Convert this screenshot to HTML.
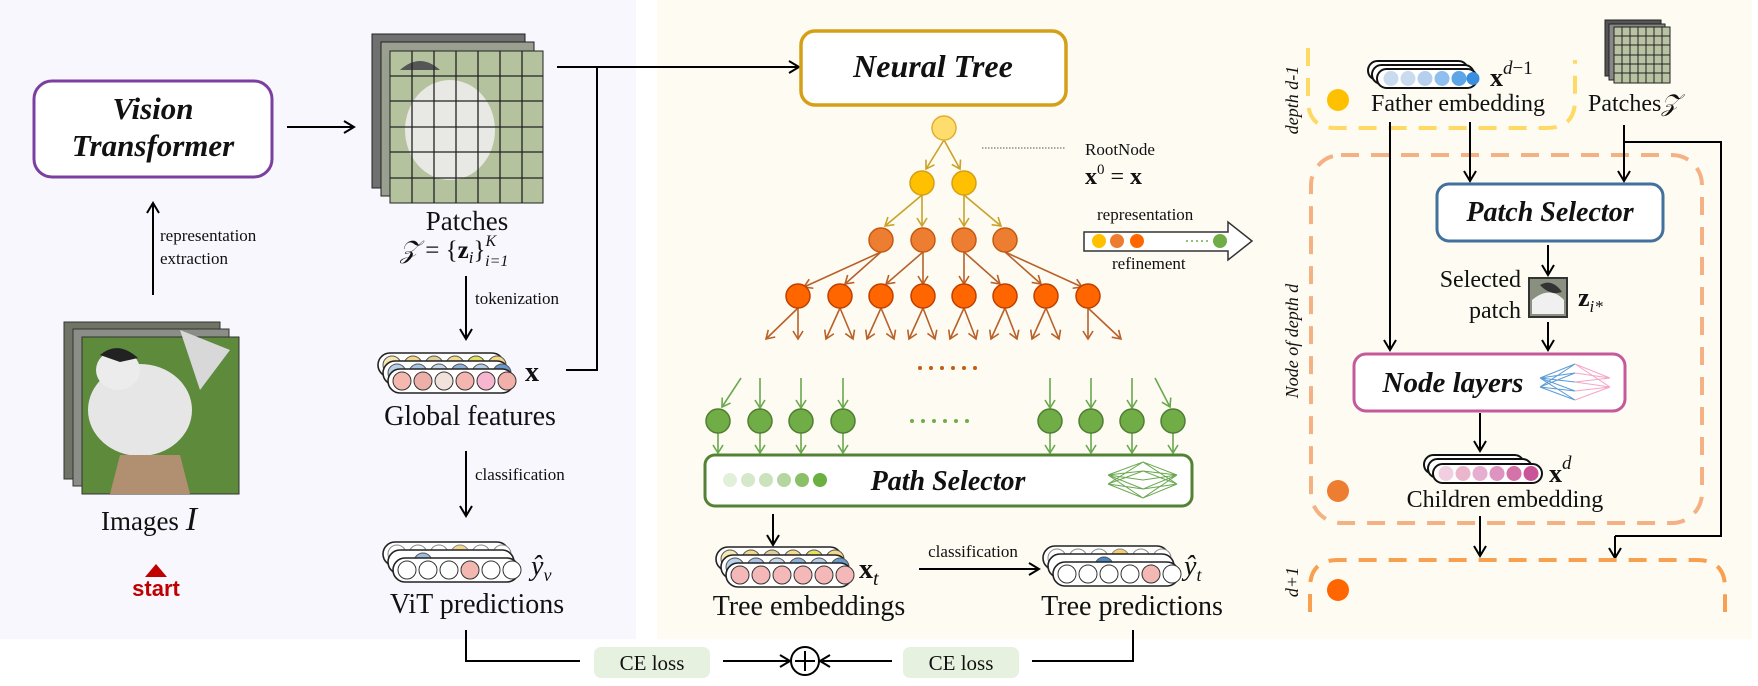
<!DOCTYPE html>
<html><head><meta charset="utf-8"><style>
html,body{margin:0;padding:0;background:#fff}
svg{display:block}
text{font-family:"Liberation Serif",serif;fill:#111}
.bi{font-weight:bold;font-style:italic}
</style></head><body>
<svg width="1758" height="686" viewBox="0 0 1758 686" xmlns="http://www.w3.org/2000/svg">
<defs>
<marker id="ak" markerUnits="userSpaceOnUse" markerWidth="14" markerHeight="14" refX="11" refY="7" orient="auto"><path d="M1,1 L11,7 L1,13" fill="none" stroke="#000" stroke-width="2"/></marker>
<marker id="ag" markerUnits="userSpaceOnUse" markerWidth="12" markerHeight="12" refX="9" refY="6" orient="auto"><path d="M1,1 L9,6 L1,11" fill="none" stroke="#c9a227" stroke-width="1.6"/></marker>
<marker id="ao" markerUnits="userSpaceOnUse" markerWidth="12" markerHeight="12" refX="9" refY="6" orient="auto"><path d="M1,1 L9,6 L1,11" fill="none" stroke="#b8612a" stroke-width="1.6"/></marker>
<marker id="agr" markerUnits="userSpaceOnUse" markerWidth="12" markerHeight="12" refX="9" refY="6" orient="auto"><path d="M1,1 L9,6 L1,11" fill="none" stroke="#6aa84f" stroke-width="1.6"/></marker>
<g id="cap"><rect x="0" y="0" width="126" height="24" rx="12" fill="#fff" stroke="#222" stroke-width="1.6"/></g>
</defs>

<!-- panels -->
<rect x="0" y="0" width="636" height="639" fill="#f8f7fd"/>
<rect x="657" y="0" width="1095" height="639" fill="#fdfbf2"/>

<!-- Vision Transformer -->
<rect x="34" y="81" width="238" height="96" rx="18" fill="#fff" stroke="#7b3fa0" stroke-width="3"/>
<text x="153" y="119" class="bi" font-size="31" text-anchor="middle">Vision</text>
<text x="153" y="156" class="bi" font-size="31" text-anchor="middle">Transformer</text>
<line x1="287" y1="127" x2="354" y2="127" stroke="#000" stroke-width="2" marker-end="url(#ak)"/>

<!-- images -->
<rect x="64" y="322" width="156" height="157" fill="#6f7467" stroke="#333"/>
<rect x="73" y="329" width="156" height="157" fill="#8a8e86" stroke="#333"/>
<rect x="82" y="337" width="157" height="157" fill="#5e8a3c" stroke="#333"/>
<ellipse cx="140" cy="410" rx="52" ry="46" fill="#e6e6e6"/>
<ellipse cx="118" cy="370" rx="22" ry="20" fill="#ececec"/>
<path d="M100,355 Q118,340 138,358 L120,362 Z" fill="#222"/>
<path d="M180,330 L230,350 L200,390 Z" fill="#d8d8d8"/>
<path d="M120,455 L180,455 L190,494 L110,494 Z" fill="#b09070"/>
<text x="149" y="530" font-size="27" text-anchor="middle">Images <tspan font-style="italic" font-size="34">I</tspan></text>
<path d="M145,577 L156,564 L167,577 Z" fill="#c00000"/>
<text x="156" y="596" font-size="22" font-weight="bold" text-anchor="middle" style="fill:#c00000;font-family:'Liberation Sans',sans-serif">start</text>
<line x1="153" y1="295" x2="153" y2="203" stroke="#000" stroke-width="2" marker-end="url(#ak)"/>
<text x="160" y="241" font-size="17">representation</text>
<text x="160" y="264" font-size="17">extraction</text>

<!-- patches -->
<rect x="372" y="34" width="153" height="154" fill="#707070" stroke="#222"/>
<rect x="381" y="42" width="153" height="154" fill="#9aa090" stroke="#222"/>
<rect x="390" y="51" width="153" height="152" fill="#b5c29e" stroke="#222"/>
<ellipse cx="450" cy="130" rx="45" ry="50" fill="#e8e8e4"/>
<path d="M400,70 Q420,52 440,70 Z" fill="#555"/>
<g stroke="#222" stroke-width="1.3">
<line x1="412" y1="51" x2="412" y2="203"/><line x1="434" y1="51" x2="434" y2="203"/><line x1="456" y1="51" x2="456" y2="203"/><line x1="478" y1="51" x2="478" y2="203"/><line x1="500" y1="51" x2="500" y2="203"/><line x1="522" y1="51" x2="522" y2="203"/>
<line x1="390" y1="76" x2="543" y2="76"/><line x1="390" y1="101" x2="543" y2="101"/><line x1="390" y1="127" x2="543" y2="127"/><line x1="390" y1="152" x2="543" y2="152"/><line x1="390" y1="178" x2="543" y2="178"/>
</g>
<text x="467" y="230" font-size="27" text-anchor="middle">Patches</text>
<text x="400" y="258" font-size="25" font-style="italic">𝒵 <tspan font-style="normal">= {</tspan><tspan font-weight="bold" font-style="normal">z</tspan><tspan font-size="17" dy="5">i</tspan><tspan dy="-5" font-style="normal">}</tspan><tspan font-size="16" dy="-12">K</tspan><tspan font-size="16" dx="-11" dy="20">i=1</tspan></text>
<line x1="466" y1="276" x2="466" y2="339" stroke="#000" stroke-width="2" marker-end="url(#ak)"/>
<text x="475" y="304" font-size="17">tokenization</text>

<!-- global features -->
<g transform="translate(378,353)">
<use href="#cap"/><circle cx="14" cy="12" r="9" fill="#f7e7b0" stroke="#555"/><circle cx="35" cy="12" r="9" fill="#f3d88a" stroke="#555"/><circle cx="56" cy="12" r="9" fill="#e0cf9a" stroke="#555"/><circle cx="77" cy="12" r="9" fill="#f3dc90" stroke="#555"/><circle cx="98" cy="12" r="9" fill="#e6e060" stroke="#555"/><circle cx="119" cy="12" r="9" fill="#f3d88a" stroke="#555"/>
<g transform="translate(5,8)"><use href="#cap"/><circle cx="14" cy="12" r="9" fill="#b8d0ea" stroke="#555"/><circle cx="35" cy="12" r="9" fill="#a8c4e4" stroke="#555"/><circle cx="56" cy="12" r="9" fill="#c4d6ea" stroke="#555"/><circle cx="77" cy="12" r="9" fill="#8cb0d8" stroke="#555"/><circle cx="98" cy="12" r="9" fill="#b4cce6" stroke="#555"/><circle cx="119" cy="12" r="9" fill="#6a9acb" stroke="#555"/></g>
<g transform="translate(10,16)"><use href="#cap"/><circle cx="14" cy="12" r="9" fill="#f4b8b0" stroke="#333"/><circle cx="35" cy="12" r="9" fill="#ecb0a8" stroke="#333"/><circle cx="56" cy="12" r="9" fill="#f2e2dc" stroke="#333"/><circle cx="77" cy="12" r="9" fill="#f4b4b0" stroke="#333"/><circle cx="98" cy="12" r="9" fill="#f7b6cf" stroke="#333"/><circle cx="119" cy="12" r="9" fill="#f2b0aa" stroke="#333"/></g>
</g>
<text x="525" y="381" font-size="28" font-weight="bold">x</text>
<text x="470" y="425" font-size="28" text-anchor="middle">Global features</text>
<polyline points="566,370 597,370 597,67 557,67" fill="none" stroke="#000" stroke-width="2"/>
<line x1="557" y1="67" x2="799" y2="67" stroke="#000" stroke-width="2" marker-end="url(#ak)"/>
<line x1="466" y1="451" x2="466" y2="516" stroke="#000" stroke-width="2" marker-end="url(#ak)"/>
<text x="475" y="480" font-size="17">classification</text>

<!-- ViT predictions -->
<g transform="translate(383,542)">
<use href="#cap"/><circle cx="14" cy="12" r="9" fill="#fff" stroke="#888"/><circle cx="35" cy="12" r="9" fill="#fff" stroke="#888"/><circle cx="56" cy="12" r="9" fill="#fff" stroke="#888"/><circle cx="77" cy="12" r="9" fill="#f4d88a" stroke="#888"/><circle cx="98" cy="12" r="9" fill="#fff" stroke="#888"/><circle cx="119" cy="12" r="9" fill="#fff" stroke="#888"/>
<g transform="translate(5,8)"><use href="#cap"/><circle cx="35" cy="12" r="9" fill="#9cbce0" stroke="#555"/></g>
<g transform="translate(10,16)"><use href="#cap"/><circle cx="14" cy="12" r="9" fill="#fff" stroke="#333"/><circle cx="35" cy="12" r="9" fill="#fff" stroke="#333"/><circle cx="56" cy="12" r="9" fill="#fff" stroke="#333"/><circle cx="77" cy="12" r="9" fill="#f2b8b0" stroke="#333"/><circle cx="98" cy="12" r="9" fill="#fff" stroke="#333"/><circle cx="119" cy="12" r="9" fill="#fff" stroke="#333"/></g>
</g>
<text x="531" y="575" font-size="28" font-style="italic">ŷ<tspan font-size="18" dy="6">v</tspan></text>
<text x="477" y="613" font-size="28" text-anchor="middle">ViT predictions</text>

<!-- Neural Tree -->
<rect x="801" y="31" width="265" height="74" rx="14" fill="#fff" stroke="#d4a017" stroke-width="3.5"/>
<text x="933" y="77" class="bi" font-size="32" text-anchor="middle">Neural Tree</text>
<g stroke-width="1.6" fill="none">
<line x1="944" y1="140" x2="926" y2="169" stroke="#c9a227" marker-end="url(#ag)"/>
<line x1="944" y1="140" x2="960" y2="169" stroke="#c9a227" marker-end="url(#ag)"/>
<line x1="922" y1="195" x2="885" y2="226" stroke="#c9a227" marker-end="url(#ag)"/>
<line x1="922" y1="195" x2="922" y2="226" stroke="#c9a227" marker-end="url(#ag)"/>
<line x1="964" y1="195" x2="964" y2="226" stroke="#c9a227" marker-end="url(#ag)"/>
<line x1="964" y1="195" x2="1001" y2="226" stroke="#c9a227" marker-end="url(#ag)"/>
<g stroke="#b8612a">
<line x1="881" y1="252" x2="804" y2="287" marker-end="url(#ao)"/>
<line x1="881" y1="252" x2="845" y2="284" marker-end="url(#ao)"/>
<line x1="923" y1="252" x2="886" y2="284" marker-end="url(#ao)"/>
<line x1="923" y1="252" x2="923" y2="284" marker-end="url(#ao)"/>
<line x1="964" y1="252" x2="964" y2="284" marker-end="url(#ao)"/>
<line x1="964" y1="252" x2="1000" y2="284" marker-end="url(#ao)"/>
<line x1="1005" y1="252" x2="1041" y2="284" marker-end="url(#ao)"/>
<line x1="1005" y1="252" x2="1082" y2="287" marker-end="url(#ao)"/>
<line x1="798" y1="308" x2="766" y2="339" marker-end="url(#ao)"/><line x1="798" y1="308" x2="798" y2="339" marker-end="url(#ao)"/>
<line x1="840" y1="308" x2="826" y2="339" marker-end="url(#ao)"/><line x1="840" y1="308" x2="853" y2="339" marker-end="url(#ao)"/>
<line x1="881" y1="308" x2="867" y2="339" marker-end="url(#ao)"/><line x1="881" y1="308" x2="894" y2="339" marker-end="url(#ao)"/>
<line x1="923" y1="308" x2="909" y2="339" marker-end="url(#ao)"/><line x1="923" y1="308" x2="935" y2="339" marker-end="url(#ao)"/>
<line x1="964" y1="308" x2="950" y2="339" marker-end="url(#ao)"/><line x1="964" y1="308" x2="976" y2="339" marker-end="url(#ao)"/>
<line x1="1005" y1="308" x2="991" y2="339" marker-end="url(#ao)"/><line x1="1005" y1="308" x2="1017" y2="339" marker-end="url(#ao)"/>
<line x1="1046" y1="308" x2="1032" y2="339" marker-end="url(#ao)"/><line x1="1046" y1="308" x2="1059" y2="339" marker-end="url(#ao)"/>
<line x1="1088" y1="308" x2="1088" y2="339" marker-end="url(#ao)"/><line x1="1088" y1="308" x2="1121" y2="339" marker-end="url(#ao)"/>
</g>
<g stroke="#6aa84f">
<line x1="741" y1="378" x2="722" y2="407" marker-end="url(#agr)"/>
<line x1="760" y1="378" x2="760" y2="408" marker-end="url(#agr)"/><line x1="801" y1="378" x2="801" y2="408" marker-end="url(#agr)"/><line x1="843" y1="378" x2="843" y2="408" marker-end="url(#agr)"/>
<line x1="1050" y1="378" x2="1050" y2="408" marker-end="url(#agr)"/><line x1="1091" y1="378" x2="1091" y2="408" marker-end="url(#agr)"/><line x1="1132" y1="378" x2="1132" y2="408" marker-end="url(#agr)"/>
<line x1="1155" y1="378" x2="1170" y2="407" marker-end="url(#agr)"/>
<line x1="718" y1="433" x2="718" y2="453" marker-end="url(#agr)"/><line x1="760" y1="433" x2="760" y2="453" marker-end="url(#agr)"/><line x1="801" y1="433" x2="801" y2="453" marker-end="url(#agr)"/><line x1="843" y1="433" x2="843" y2="453" marker-end="url(#agr)"/>
<line x1="1050" y1="433" x2="1050" y2="453" marker-end="url(#agr)"/><line x1="1091" y1="433" x2="1091" y2="453" marker-end="url(#agr)"/><line x1="1132" y1="433" x2="1132" y2="453" marker-end="url(#agr)"/><line x1="1173" y1="433" x2="1173" y2="453" marker-end="url(#agr)"/>
</g>
</g>
<circle cx="944" cy="128" r="12" fill="#fedd6e" stroke="#e0b030" stroke-width="1.5"/>
<g fill="#ffc000" stroke="#d4a017" stroke-width="1.5"><circle cx="922" cy="183" r="12"/><circle cx="964" cy="183" r="12"/></g>
<g fill="#ed7d31" stroke="#c55a11" stroke-width="1.5"><circle cx="881" cy="240" r="12"/><circle cx="923" cy="240" r="12"/><circle cx="964" cy="240" r="12"/><circle cx="1005" cy="240" r="12"/></g>
<g fill="#ff6600" stroke="#c04000" stroke-width="1.5"><circle cx="798" cy="296" r="12"/><circle cx="840" cy="296" r="12"/><circle cx="881" cy="296" r="12"/><circle cx="923" cy="296" r="12"/><circle cx="964" cy="296" r="12"/><circle cx="1005" cy="296" r="12"/><circle cx="1046" cy="296" r="12"/><circle cx="1088" cy="296" r="12"/></g>
<g fill="#c55a11"><circle cx="920" cy="368" r="2"/><circle cx="931" cy="368" r="2"/><circle cx="942" cy="368" r="2"/><circle cx="953" cy="368" r="2"/><circle cx="964" cy="368" r="2"/><circle cx="975" cy="368" r="2"/></g>
<g fill="#70ad47"><circle cx="912" cy="421" r="2"/><circle cx="923" cy="421" r="2"/><circle cx="934" cy="421" r="2"/><circle cx="945" cy="421" r="2"/><circle cx="956" cy="421" r="2"/><circle cx="967" cy="421" r="2"/></g>
<g fill="#70ad47" stroke="#507e32" stroke-width="1.5"><circle cx="718" cy="421" r="12"/><circle cx="760" cy="421" r="12"/><circle cx="801" cy="421" r="12"/><circle cx="843" cy="421" r="12"/><circle cx="1050" cy="421" r="12"/><circle cx="1091" cy="421" r="12"/><circle cx="1132" cy="421" r="12"/><circle cx="1173" cy="421" r="12"/></g>

<!-- RootNode labels -->
<line x1="982" y1="148" x2="1066" y2="148" stroke="#555" stroke-width="1" stroke-dasharray="1.5,1.5"/>
<text x="1085" y="155" font-size="17">RootNode</text>
<text x="1085" y="184" font-size="24" font-weight="bold">x<tspan font-size="15" font-weight="normal" dy="-10">0</tspan><tspan font-weight="normal" dy="10"> = </tspan>x</text>
<text x="1097" y="220" font-size="17">representation</text>
<path d="M1084,232 L1228,232 L1228,222 L1252,241 L1228,260 L1228,251 L1084,251 Z" fill="#fff" stroke="#333" stroke-width="1.5"/>
<circle cx="1099" cy="241" r="7" fill="#ffc000"/><circle cx="1117" cy="241" r="7" fill="#ed7d31"/><circle cx="1137" cy="241" r="7" fill="#ff6600"/>
<line x1="1186" y1="241" x2="1210" y2="241" stroke="#70ad47" stroke-width="1.5" stroke-dasharray="2,3"/>
<circle cx="1220" cy="241" r="7" fill="#70ad47"/>
<text x="1112" y="269" font-size="17">refinement</text>

<!-- Path selector -->
<rect x="705" y="455" width="487" height="51" rx="10" fill="#fff" stroke="#548235" stroke-width="3"/>
<circle cx="730" cy="480" r="7" fill="#e2efd9"/><circle cx="748" cy="480" r="7" fill="#d5e8c9"/><circle cx="766" cy="480" r="7" fill="#cbe3bd"/><circle cx="784" cy="480" r="7" fill="#b5d6a0"/><circle cx="802" cy="480" r="7" fill="#8cc068"/><circle cx="820" cy="480" r="7" fill="#6bb043"/>
<text x="948" y="490" class="bi" font-size="28" text-anchor="middle">Path Selector</text>
<g stroke="#6aa84f" stroke-width="1" fill="none">
<path d="M1108,475 L1143,462 L1177,475 M1108,475 L1143,471 L1177,475 M1108,475 L1143,480 L1177,475 M1108,475 L1143,489 L1177,475 M1108,475 L1143,498 L1177,475 M1108,484 L1143,462 L1177,484 M1108,484 L1143,471 L1177,484 M1108,484 L1143,489 L1177,484 M1108,484 L1143,498 L1177,484"/>
</g>
<line x1="773" y1="514" x2="773" y2="545" stroke="#000" stroke-width="2" marker-end="url(#ak)"/>

<!-- tree embeddings -->
<g transform="translate(716,547)">
<use href="#cap"/><circle cx="14" cy="12" r="9" fill="#f7e7b0" stroke="#555"/><circle cx="35" cy="12" r="9" fill="#f3d88a" stroke="#555"/><circle cx="56" cy="12" r="9" fill="#e0cf9a" stroke="#555"/><circle cx="77" cy="12" r="9" fill="#f3dc90" stroke="#555"/><circle cx="98" cy="12" r="9" fill="#e6e060" stroke="#555"/><circle cx="119" cy="12" r="9" fill="#f3d88a" stroke="#555"/>
<g transform="translate(5,8)"><use href="#cap"/><circle cx="14" cy="12" r="9" fill="#b8d0ea" stroke="#555"/><circle cx="35" cy="12" r="9" fill="#a8c4e4" stroke="#555"/><circle cx="56" cy="12" r="9" fill="#c4d6ea" stroke="#555"/><circle cx="77" cy="12" r="9" fill="#8cb0d8" stroke="#555"/><circle cx="98" cy="12" r="9" fill="#b4cce6" stroke="#555"/><circle cx="119" cy="12" r="9" fill="#6a9acb" stroke="#555"/></g>
<g transform="translate(10,16)"><use href="#cap"/><circle cx="14" cy="12" r="9" fill="#f4b8b8" stroke="#333"/><circle cx="35" cy="12" r="9" fill="#f4b8b8" stroke="#333"/><circle cx="56" cy="12" r="9" fill="#f4b8b8" stroke="#333"/><circle cx="77" cy="12" r="9" fill="#f4b8b8" stroke="#333"/><circle cx="98" cy="12" r="9" fill="#f4b8b8" stroke="#333"/><circle cx="119" cy="12" r="9" fill="#f4b8b8" stroke="#333"/></g>
</g>
<text x="859" y="578" font-size="28" font-weight="bold">x<tspan font-size="20" font-weight="normal" font-style="italic" dy="7">t</tspan></text>
<text x="809" y="615" font-size="28" text-anchor="middle">Tree embeddings</text>
<line x1="919" y1="569" x2="1039" y2="569" stroke="#000" stroke-width="2" marker-end="url(#ak)"/>
<text x="973" y="557" font-size="17" text-anchor="middle">classification</text>

<!-- tree predictions -->
<g transform="translate(1043,546)">
<use href="#cap"/><circle cx="14" cy="12" r="9" fill="#fff" stroke="#888"/><circle cx="35" cy="12" r="9" fill="#fff" stroke="#888"/><circle cx="56" cy="12" r="9" fill="#fff" stroke="#888"/><circle cx="77" cy="12" r="9" fill="#f4d070" stroke="#888"/><circle cx="98" cy="12" r="9" fill="#fff" stroke="#888"/><circle cx="119" cy="12" r="9" fill="#fff" stroke="#888"/>
<g transform="translate(5,8)"><use href="#cap"/><circle cx="56" cy="12" r="9" fill="#4a86c8" stroke="#555"/></g>
<g transform="translate(10,16)"><use href="#cap"/><circle cx="14" cy="12" r="9" fill="#fff" stroke="#333"/><circle cx="35" cy="12" r="9" fill="#fff" stroke="#333"/><circle cx="56" cy="12" r="9" fill="#fff" stroke="#333"/><circle cx="77" cy="12" r="9" fill="#fff" stroke="#333"/><circle cx="98" cy="12" r="9" fill="#f4b8b4" stroke="#333"/><circle cx="119" cy="12" r="9" fill="#fff" stroke="#333"/></g>
</g>
<text x="1184" y="575" font-size="28" font-style="italic">ŷ<tspan font-size="18" dy="6">t</tspan></text>
<text x="1132" y="615" font-size="28" text-anchor="middle">Tree predictions</text>

<!-- bottom loss -->
<polyline points="466,630 466,661 580,661" fill="none" stroke="#000" stroke-width="2"/>
<rect x="594" y="647" width="116" height="31" rx="7" fill="#e6f1df"/>
<text x="652" y="670" font-size="21" text-anchor="middle">CE loss</text>
<line x1="723" y1="661" x2="790" y2="661" stroke="#000" stroke-width="2" marker-end="url(#ak)"/>
<circle cx="805" cy="661" r="14" fill="#fff" stroke="#000" stroke-width="2"/>
<line x1="795" y1="661" x2="815" y2="661" stroke="#000" stroke-width="2"/><line x1="805" y1="651" x2="805" y2="671" stroke="#000" stroke-width="2"/>
<line x1="892" y1="661" x2="820" y2="661" stroke="#000" stroke-width="2" marker-end="url(#ak)"/>
<rect x="903" y="647" width="116" height="31" rx="7" fill="#e6f1df"/>
<text x="961" y="670" font-size="21" text-anchor="middle">CE loss</text>
<polyline points="1032,661 1133,661 1133,630" fill="none" stroke="#000" stroke-width="2"/>

<!-- right: depth d-1 -->
<path d="M1308,48 L1308,100 Q1308,128 1336,128 L1547,128 Q1575,128 1575,100 L1575,60" fill="none" stroke="#ffd966" stroke-width="4" stroke-dasharray="18,12"/>
<text transform="translate(1298,100) rotate(-90)" font-size="18" font-style="italic" text-anchor="middle">depth d-1</text>
<circle cx="1338" cy="100" r="11" fill="#ffc000"/>
<g transform="translate(1368,61)">
<rect x="0" y="0" width="100" height="19" rx="9.5" fill="#fff" stroke="#111" stroke-width="2"/>
<rect x="4" y="4" width="102" height="19" rx="9.5" fill="#fff" stroke="#111" stroke-width="2"/>
<rect x="9" y="8" width="100" height="19" rx="9.5" fill="#fff" stroke="#111" stroke-width="2"/>
<circle cx="23" cy="17.5" r="7.5" fill="#c9dbef"/><circle cx="40" cy="17.5" r="7.5" fill="#c9dbef"/><circle cx="57" cy="17.5" r="7.5" fill="#b4d0ee"/><circle cx="74" cy="17.5" r="7.5" fill="#8ebfee"/><circle cx="91" cy="17.5" r="7.5" fill="#5ca5e6"/><circle cx="105" cy="17.5" r="6.5" fill="#3a8ee0"/>
</g>
<text x="1490" y="86" font-size="26" font-weight="bold">x<tspan font-size="19" font-weight="normal" font-style="italic" dy="-12">d</tspan><tspan font-size="19" font-weight="normal" dy="0">−1</tspan></text>
<text x="1458" y="111" font-size="24" text-anchor="middle">Father embedding</text>
<rect x="1605" y="20" width="56" height="56" fill="#555" stroke="#222"/>
<rect x="1609" y="24" width="56" height="56" fill="#888" stroke="#222"/>
<rect x="1614" y="27" width="56" height="56" fill="#b9c3a3" stroke="#222"/>
<g stroke="#222" stroke-width="1"><line x1="1622" y1="27" x2="1622" y2="83"/><line x1="1630" y1="27" x2="1630" y2="83"/><line x1="1638" y1="27" x2="1638" y2="83"/><line x1="1646" y1="27" x2="1646" y2="83"/><line x1="1654" y1="27" x2="1654" y2="83"/><line x1="1662" y1="27" x2="1662" y2="83"/>
<line x1="1614" y1="36" x2="1670" y2="36"/><line x1="1614" y1="45" x2="1670" y2="45"/><line x1="1614" y1="55" x2="1670" y2="55"/><line x1="1614" y1="64" x2="1670" y2="64"/><line x1="1614" y1="73" x2="1670" y2="73"/></g>
<text x="1588" y="111" font-size="24">Patches<tspan font-style="italic">𝒵</tspan></text>

<!-- node of depth d -->
<rect x="1311" y="155" width="391" height="368" rx="30" fill="none" stroke="#f4b183" stroke-width="4" stroke-dasharray="18,12"/>
<text transform="translate(1298,341) rotate(-90)" font-size="18" font-style="italic" text-anchor="middle">Node of depth d</text>
<line x1="1390" y1="122" x2="1390" y2="350" stroke="#000" stroke-width="2" marker-end="url(#ak)"/>
<line x1="1470" y1="122" x2="1470" y2="181" stroke="#000" stroke-width="2" marker-end="url(#ak)"/>
<line x1="1624" y1="125" x2="1624" y2="181" stroke="#000" stroke-width="2" marker-end="url(#ak)"/>
<polyline points="1624,142 1721,142 1721,536 1615,536" fill="none" stroke="#000" stroke-width="2"/>
<line x1="1615" y1="536" x2="1615" y2="558" stroke="#000" stroke-width="2" marker-end="url(#ak)"/>
<rect x="1437" y="184" width="226" height="57" rx="12" fill="#fff" stroke="#41719c" stroke-width="3"/>
<text x="1550" y="221" class="bi" font-size="28" text-anchor="middle">Patch Selector</text>
<line x1="1548" y1="245" x2="1548" y2="275" stroke="#000" stroke-width="2" marker-end="url(#ak)"/>
<rect x="1529" y="278" width="38" height="39" fill="#8a9080" stroke="#333" stroke-width="2"/>
<path d="M1532,300 Q1550,285 1564,300 L1564,314 L1532,314 Z" fill="#f0f0f0"/>
<path d="M1540,285 Q1552,278 1562,292 Q1550,296 1540,285 Z" fill="#333"/>
<text x="1521" y="287" font-size="24" text-anchor="end">Selected</text>
<text x="1521" y="318" font-size="24" text-anchor="end">patch</text>
<text x="1578" y="306" font-size="26" font-weight="bold">z<tspan font-size="17" font-weight="normal" font-style="italic" dy="6">i*</tspan></text>
<line x1="1548" y1="322" x2="1548" y2="350" stroke="#000" stroke-width="2" marker-end="url(#ak)"/>
<rect x="1354" y="354" width="271" height="57" rx="12" fill="#fff" stroke="#c55a9a" stroke-width="3"/>
<text x="1453" y="392" class="bi" font-size="29" text-anchor="middle">Node layers</text>
<g stroke-width="1" fill="none">
<path d="M1540,378 L1575,364 M1540,378 L1575,373 M1540,378 L1575,382 M1540,378 L1575,391 M1540,378 L1575,400 M1540,387 L1575,364 M1540,387 L1575,373 M1540,387 L1575,391 M1540,387 L1575,400" stroke="#5b9bd5"/>
<path d="M1575,364 L1610,378 M1575,373 L1610,378 M1575,382 L1610,378 M1575,391 L1610,387 M1575,400 L1610,387 M1575,364 L1610,387 M1575,382 L1610,387" stroke="#f4a6c6"/>
</g>
<line x1="1480" y1="413" x2="1480" y2="451" stroke="#000" stroke-width="2" marker-end="url(#ak)"/>
<g transform="translate(1424,455)">
<rect x="0" y="0" width="100" height="19" rx="9.5" fill="#fff" stroke="#111" stroke-width="2"/>
<rect x="4" y="4" width="104" height="19" rx="9.5" fill="#fff" stroke="#111" stroke-width="2"/>
<rect x="9" y="9" width="109" height="19" rx="9.5" fill="#fff" stroke="#111" stroke-width="2"/>
<circle cx="22" cy="18.5" r="7.5" fill="#f2cfe0"/><circle cx="39" cy="18.5" r="7.5" fill="#ebb6cc"/><circle cx="56" cy="18.5" r="7.5" fill="#e6aed0"/><circle cx="73" cy="18.5" r="7.5" fill="#de94c0"/><circle cx="90" cy="18.5" r="7.5" fill="#d472aa"/><circle cx="107" cy="18.5" r="7.5" fill="#c95598"/>
</g>
<text x="1549" y="482" font-size="26" font-weight="bold">x<tspan font-size="19" font-weight="normal" font-style="italic" dy="-13">d</tspan></text>
<text x="1505" y="507" font-size="24" text-anchor="middle">Children embedding</text>
<circle cx="1338" cy="491" r="11" fill="#ed7d31"/>
<line x1="1480" y1="516" x2="1480" y2="556" stroke="#000" stroke-width="2" marker-end="url(#ak)"/>

<!-- d+1 -->
<path d="M1310,612 L1310,588 Q1310,560 1338,560 L1697,560 Q1725,560 1725,588 L1725,612" fill="none" stroke="#f8a050" stroke-width="4" stroke-dasharray="18,12"/>
<circle cx="1338" cy="590" r="11" fill="#ff6600"/>
<text transform="translate(1298,582) rotate(-90)" font-size="18" font-style="italic" text-anchor="middle">d+1</text>
</svg>
</body></html>
